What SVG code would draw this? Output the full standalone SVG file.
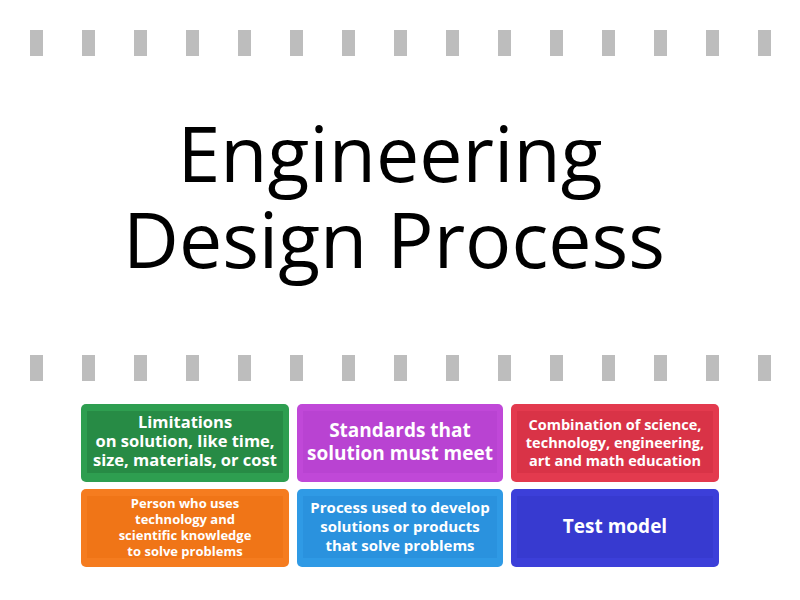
<svg xmlns="http://www.w3.org/2000/svg" width="800" height="600" viewBox="0 0 800 600">
<style>
.bar{fill:#bdbdbd}
.t{font-family:"Open Sans","DejaVu Sans",sans-serif;fill:#fff;font-weight:bold;text-anchor:middle}
.title{font-family:"Open Sans","DejaVu Sans",sans-serif;fill:#000;font-size:77px;text-anchor:middle}
</style>
<defs>
<g id="bars">
<rect class="bar" x="30" width="13" height="26"/><rect class="bar" x="82" width="13" height="26"/><rect class="bar" x="134" width="13" height="26"/><rect class="bar" x="186" width="13" height="26"/><rect class="bar" x="238" width="13" height="26"/><rect class="bar" x="290" width="13" height="26"/><rect class="bar" x="342" width="13" height="26"/><rect class="bar" x="394" width="13" height="26"/><rect class="bar" x="446" width="13" height="26"/><rect class="bar" x="498" width="13" height="26"/><rect class="bar" x="550" width="13" height="26"/><rect class="bar" x="602" width="13" height="26"/><rect class="bar" x="654" width="13" height="26"/><rect class="bar" x="706" width="13" height="26"/><rect class="bar" x="758" width="13" height="26"/>
</g>
</defs>
<use href="#bars" y="30"/>
<use href="#bars" y="355"/>
<text class="title" x="390" y="182">Engineering</text>
<text class="title" x="394" y="268">Design Process</text>
<g id="n1"><rect x="81" y="404" width="208" height="78" rx="5" fill="#2e9e50"/><rect x="87" y="411" width="196" height="62" fill="#237e3e" opacity="0.6"/>
<text class="t" font-size="16.5" x="185" y="428">Limitations</text><text class="t" font-size="16.5" x="185" y="447">on solution, like time,</text><text class="t" font-size="16.5" x="185" y="466">size, materials, or cost</text></g>
<g id="n2"><rect x="297" y="404" width="206" height="78" rx="5" fill="#c048d8"/><rect x="303" y="411" width="194" height="62" fill="#b13ecb" opacity="0.5"/>
<text class="t" font-size="19" x="400" y="437">Standards that</text><text class="t" font-size="19" x="400" y="460">solution must meet</text></g>
<g id="n3"><rect x="511" y="404" width="208" height="78" rx="5" fill="#e33a4e"/><rect x="517" y="411" width="196" height="62" fill="#cf2b40" opacity="0.5"/>
<text class="t" font-size="14.5" x="615" y="430">Combination of science,</text><text class="t" font-size="14.5" x="615" y="448">technology, engineering,</text><text class="t" font-size="14.5" x="615" y="466">art and math education</text></g>
<g id="n4"><rect x="81" y="489" width="208" height="78" rx="5" fill="#f57c1f"/><rect x="87" y="496" width="196" height="62" fill="#ec6d10" opacity="0.5"/>
<text class="t" font-size="13" x="185" y="508">Person who uses</text><text class="t" font-size="13" x="185" y="524">technology and</text><text class="t" font-size="13" x="185" y="540">scientific knowledge</text><text class="t" font-size="13" x="185" y="556">to solve problems</text></g>
<g id="n5"><rect x="297" y="489" width="206" height="78" rx="5" fill="#2f9ae5"/><rect x="303" y="496" width="194" height="62" fill="#2589d8" opacity="0.5"/>
<text class="t" font-size="15" x="400" y="513">Process used to develop</text><text class="t" font-size="15" x="400" y="532">solutions or products</text><text class="t" font-size="15" x="400" y="551">that solve problems</text></g>
<g id="n6"><rect x="511" y="489" width="208" height="78" rx="5" fill="#3c3fd9"/><rect x="517" y="496" width="196" height="62" fill="#3236c8" opacity="0.5"/>
<text class="t" font-size="19" x="615" y="533">Test model</text></g>
<g id="connectors"/>
</svg>
